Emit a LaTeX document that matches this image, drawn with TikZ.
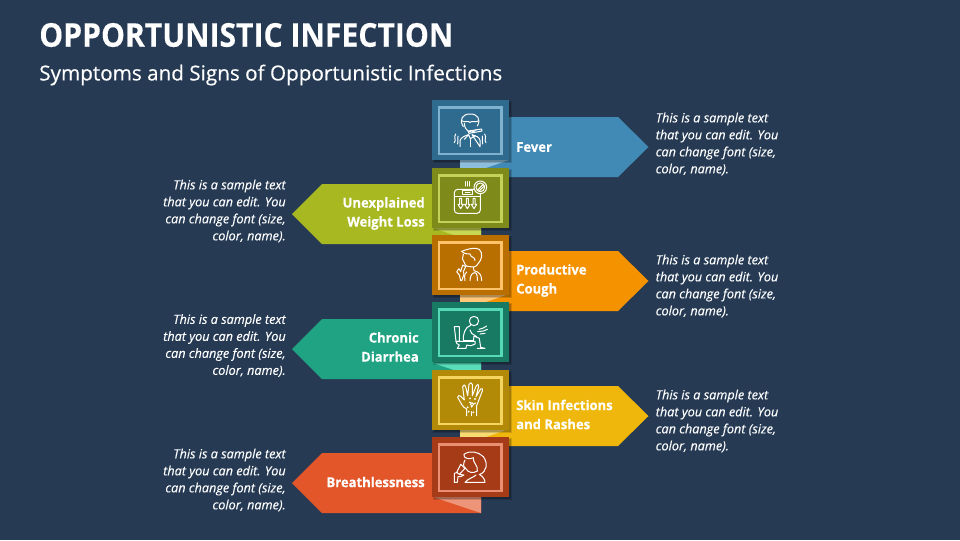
\documentclass[tikz,border=0pt]{standalone}
\usepackage{fontspec}
\setmainfont{Open Sans}
\newfontfamily\titlefont[FakeBold=0.2,FakeStretch=0.918]{Open Sans Bold}
\newfontfamily\subfont[FakeBold=0.4,FakeStretch=1.0]{Open Sans}
\newfontfamily\labelfont[FakeBold=0.2,FakeStretch=0.96]{Open Sans Bold}
\newfontfamily\bodyfont[FakeBold=0.25,FakeStretch=1.0]{Open Sans Italic}
\definecolor{bgc}{HTML}{263A54}
\definecolor{arA}{HTML}{418AB5}\definecolor{sqA}{HTML}{2F6B8E}\definecolor{frA}{HTML}{7FB2CF}\definecolor{foA}{HTML}{8DBEDC}
\definecolor{arB}{HTML}{A8B820}\definecolor{sqB}{HTML}{7E8A1A}\definecolor{frB}{HTML}{C5D25A}\definecolor{foB}{HTML}{C8D855}
\definecolor{arC}{HTML}{F59200}\definecolor{sqC}{HTML}{B96E00}\definecolor{frC}{HTML}{FFC46B}\definecolor{foC}{HTML}{FFC878}
\definecolor{arD}{HTML}{1FA382}\definecolor{sqD}{HTML}{187A62}\definecolor{frD}{HTML}{55D9B8}\definecolor{foD}{HTML}{5ADDBB}
\definecolor{arE}{HTML}{EFB70C}\definecolor{sqE}{HTML}{B38A08}\definecolor{frE}{HTML}{F5D560}\definecolor{foE}{HTML}{F7DA70}
\definecolor{arF}{HTML}{E2562A}\definecolor{sqF}{HTML}{A63B18}\definecolor{frF}{HTML}{EB8F72}\definecolor{foF}{HTML}{EE9478}
\tikzset{
  x=0.75pt,y=-0.75pt,
  titletext/.style={text=white,font=\titlefont\fontsize{24.6pt}{28pt}\selectfont,anchor=west,inner sep=0},
  subtext/.style={text=white,font=\subfont\fontsize{15.5pt}{18pt}\selectfont,anchor=west,inner sep=0},
  labeltext/.style={text=white,font=\labelfont\fontsize{10.2pt}{14.3pt}\selectfont,inner sep=0},
  rightlabel/.style={labeltext,anchor=west,align=left},
  leftlabel/.style={labeltext,anchor=east,align=right},
  bodyr/.style={text=white,font=\bodyfont\fontsize{9.5pt}{12.75pt}\selectfont,anchor=west,align=left,inner sep=0},
  bodyl/.style={text=white,font=\bodyfont\fontsize{9.5pt}{12.75pt}\selectfont,anchor=east,align=right,inner sep=0},
  iconline/.style={draw=white,line width=0.75pt,line join=round,line cap=round,fill=none},
  zoomed/.style={x=0.25pt,y=-0.25pt},
}
% #1 name, #2 top y, #3 letter
\newcommand{\squarebox}[3]{%
  \fill[black,opacity=.14] (433,#2+1) rectangle (512,#2+63);
  \fill[black,opacity=.2] (434,#2+2) rectangle (510.5,#2+61.5);
  \node[minimum width=57.75pt,minimum height=45pt,inner sep=0,fill=sq#3,anchor=north west] (#1) at (432,#2) {};
  \draw[draw=fr#3,line width=1.9pt] (439,#2+7.5) rectangle (501.5,#2+54);
}
\newcommand{\rightshape}[3]{%
  \fill[ar#3] (460,#2)--(618,#2)--(648.5,#2+30)--(618,#2+60)--(460,#2+60)--cycle;
  \fill[fo#3] (460,#2+43)--(509,#2+43)--(460,#2+60)--cycle;
}
\newcommand{\leftshape}[3]{%
  \fill[ar#3] (481,#2)--(322,#2)--(292,#2+30)--(322,#2+60)--(481,#2+60)--cycle;
  \fill[fo#3] (433,#2+44)--(481,#2+44)--(481,#2+60)--cycle;
}
\newcommand{\sampleR}{This is a sample text\\that you can edit. You\\can change font (size,\\color, name).}
\newcommand{\sampleL}{This is a sample text\\that you can edit. You\\can change font (size,\\color, name).}
\begin{document}
\begin{tikzpicture}
\useasboundingbox (0,0) rectangle (960,540);
\fill[bgc] (0,0) rectangle (960,540);
\node[titletext] (title) at (39,35) {OPPORTUNISTIC INFECTION};
\node[subtext] (subtitle) at (39,75) {Symptoms and Signs of Opportunistic Infections};

\rightshape{a}{117}{A}
\leftshape{b}{184}{B}
\rightshape{c}{251}{C}
\leftshape{d}{319}{D}
\rightshape{e}{386}{E}
\leftshape{f}{453}{F}

\squarebox{sa}{100}{A}
\squarebox{sb}{168}{B}
\squarebox{sc}{235}{C}
\squarebox{sd}{302}{D}
\squarebox{se}{370}{E}
\squarebox{sf}{437}{F}

\node[rightlabel] (la) at (516,147) {Fever};
\node[leftlabel] (lb) at (425,213.5) {Unexplained\\Weight Loss};
\node[rightlabel] (lc) at (516,280.5) {Productive\\Cough};
\node[leftlabel] (ld) at (419,347) {Chronic\\Diarrhea};
\node[rightlabel] (le) at (516,414.5) {Skin Infections\\and Rashes};
\node[leftlabel] (lf) at (425,482) {Breathlessness};

\node[bodyr] (ta) at (655.5,144) {\sampleR};
\node[bodyl] (tb) at (286,211) {\sampleL};
\node[bodyr] (tc) at (655.5,286) {\sampleR};
\node[bodyl] (td) at (286,345.5) {\sampleL};
\node[bodyr] (te) at (655.5,421) {\sampleR};
\node[bodyl] (tf) at (286,480) {\sampleL};

% Fever icon
\begin{scope}[shift={(420,90)},zoomed,iconline]
\draw (130,110) .. controls (116,88) and (128,72) .. (150,72) .. controls (172,71) and (184,88) .. (172,108);
\draw (125,92) .. controls (135,100) and (142,90) .. (150,97) .. controls (158,90) and (166,100) .. (176,92);
\draw (133,100) .. controls (134,122) and (150,134) .. (168,120);
\draw (145,123) -- (185,117) -- (186,123) -- (147,130) -- cycle;
\draw (120,170) -- (120,152) .. controls (122,142) and (135,138) .. (145,134);
\draw (156,134) .. controls (168,138) and (180,142) .. (180,152) -- (180,170) -- cycle;
\draw (133,148) -- (146,134) -- (151,146) -- (166,137);
\draw (150,148) -- (150,170);
\draw (107,132) .. controls (100,142) and (110,150) .. (103,158);
\draw (114,138) .. controls (110,148) and (118,152) .. (113,162);
\draw (194,132) .. controls (201,142) and (191,150) .. (198,158);
\draw (187,138) .. controls (191,148) and (183,152) .. (188,162);
\end{scope}
% Weight loss icon
\begin{scope}[shift={(420,90)},zoomed,iconline]
\draw[rounded corners=2.5pt] (103,298) rectangle (181,370);
\draw (127,301) rectangle (158,314);
\draw (136,307) -- (150,307);
\draw (103,318) -- (181,318);
\draw (135,275) -- (135,288) (142,275) -- (142,288) (149,275) -- (149,288);
\foreach \ax in {122,142,162}{
  \draw (\ax-3,325) -- (\ax-3,343) -- (\ax-8,343) -- (\ax,356) -- (\ax+8,343) -- (\ax+3,343) -- (\ax+3,325) -- cycle;
}
\fill[sqB,draw=none] (181,292) circle[radius=19];
\draw (181,292) circle[radius=19];
\draw (181,292) circle[radius=13];
\draw (172,301) -- (190,283);
\draw (176,304) -- (194,287);
\end{scope}
% Cough icon
\begin{scope}[shift={(420,230)},zoomed,iconline]
\draw (125,64) .. controls (140,58) and (165,50) .. (178,58) .. controls (190,70) and (185,90) .. (175,100) .. controls (168,112) and (160,112) .. (150,110);
\draw (125,64) .. controls (135,72) and (140,72) .. (150,72) .. controls (152,85) and (165,78) .. (165,92);
\draw (130,72) .. controls (128,85) and (125,92) .. (133,98) .. controls (135,108) and (145,112) .. (150,110);
\draw (140,126) .. controls (130,135) and (135,145) .. (135,152);
\draw (160,112) -- (162,122) .. controls (178,125) and (185,135) .. (185,152);
\draw (150,152) .. controls (150,135) and (158,128) .. (165,128) .. controls (172,130) and (172,140) .. (172,152);
\draw (122,152) -- (118,135) -- (110,125) -- (117,116) -- (122,125) -- (128,105) -- (137,110) -- (130,125) -- (132,133) -- (125,152);
\end{scope}
% Toilet icon
\begin{scope}[shift={(420,230)},zoomed,iconline]
\draw (162,273) circle[radius=14];
\draw (152,286) .. controls (135,290) and (128,315) .. (130,332) -- (160,332) -- (162,318) -- (178,325) -- (182,352) -- (195,355) -- (172,355);
\draw (150,300) -- (155,310) -- (170,320);
\draw (103,290) -- (118,290) -- (118,334) -- (108,334) -- cycle;
\draw (108,334) -- (165,334) -- (165,342) .. controls (160,347) and (150,348) .. (140,345) -- (138,355) -- (112,355) -- (118,345) .. controls (112,342) and (108,340) .. (108,334);
\draw (177,298) -- (190,294) -- (200,288);
\draw (173,305) -- (190,303) -- (202,298);
\draw (180,312) -- (195,310);
\end{scope}
% Hand icon
\begin{scope}[shift={(420,365)},zoomed,iconline]
\draw (140,152) -- (140,132) .. controls (128,128) and (122,112) .. (113,97) .. controls (112,90) and (120,90) .. (125,97) -- (133,105) -- (128,65) .. controls (130,58) and (135,58) .. (137,65) -- (143,92) -- (147,58) .. controls (150,52) and (155,52) .. (157,58) -- (157,92) -- (169,62) .. controls (172,56) and (177,58) .. (176,65) -- (168,95) -- (182,72) .. controls (186,68) and (190,72) .. (187,78) .. controls (180,95) and (175,110) .. (170,122) -- (170,152);
\draw (155,152) -- (155,140);
\foreach \dx/\dy in {150/100,165/102,150/112,165/115,155/125,143/127,160/142,146/140}{
  \fill[white,draw=none] (\dx,\dy) circle[radius=3.2];
}
\draw (156,118) circle[radius=5];
\end{scope}
% Breathless icon
\begin{scope}[shift={(420,365)},zoomed,iconline]
\draw (132,268) .. controls (150,255) and (175,260) .. (190,275) .. controls (205,295) and (200,320) .. (180,328);
\draw (132,268) .. controls (128,280) and (150,285) .. (160,278) .. controls (158,295) and (175,300) .. (172,318);
\draw (135,285) .. controls (130,295) and (128,305) .. (137,310) .. controls (145,325) and (160,325) .. (172,318);
\draw (178,328) .. controls (190,335) and (195,345) .. (195,352) -- (135,352) .. controls (145,340) and (160,338) .. (168,330);
\draw (122,298) -- (135,310) -- (118,328) -- (110,322) -- cycle;
\draw (112,322) -- (103,325) -- (103,352) -- (112,352) -- (114,335) -- (122,335) -- (132,330) -- (118,328);
\end{scope}
\end{tikzpicture}
\end{document}
